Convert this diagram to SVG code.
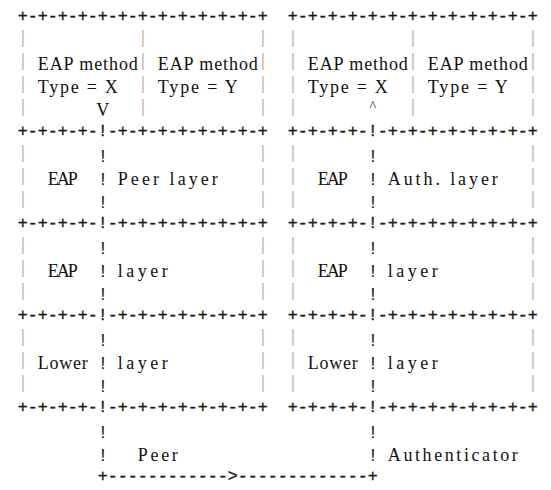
<svg xmlns="http://www.w3.org/2000/svg" width="551" height="490" viewBox="0 0 551 490">
<style>
.b{font-family:"Liberation Mono","DejaVu Sans Mono",monospace;font-size:16.667px;fill:#1a1a1a;stroke:#1a1a1a;stroke-width:0.35px}
.p{font-family:"Liberation Mono","DejaVu Sans Mono",monospace;font-size:18px;fill:#cdb8a6;text-anchor:middle}
.t{font-family:"Liberation Serif","DejaVu Serif",serif;font-size:18px;fill:#111}
.c{font-family:"Liberation Serif","DejaVu Serif",serif;font-size:18px;fill:#111;text-anchor:middle}
.k{font-family:"Liberation Mono","DejaVu Sans Mono",monospace;font-size:18px;fill:#1a1a1a;text-anchor:middle}
</style>
<rect width="551" height="490" fill="#fff"/>
<g id="peer-stack">
<text class="b" x="17.8" y="20.9" textLength="250" lengthAdjust="spacing">+-+-+-+-+-+-+-+-+-+-+-+-+</text>
<text class="b" x="17.8" y="135.9" textLength="250" lengthAdjust="spacing">+-+-+-+-!-+-+-+-+-+-+-+-+</text>
<text class="b" x="17.8" y="227.9" textLength="250" lengthAdjust="spacing">+-+-+-+-!-+-+-+-+-+-+-+-+</text>
<text class="b" x="17.8" y="319.9" textLength="250" lengthAdjust="spacing">+-+-+-+-!-+-+-+-+-+-+-+-+</text>
<text class="b" x="17.8" y="411.9" textLength="250" lengthAdjust="spacing">+-+-+-+-!-+-+-+-+-+-+-+-+</text>
<text class="p" x="22.8" y="43">|</text><text class="p" x="142.8" y="43">|</text><text class="p" x="262.8" y="43">|</text>
<text class="p" x="22.8" y="66">|</text><text class="p" x="142.8" y="66">|</text><text class="p" x="262.8" y="66">|</text>
<text class="p" x="22.8" y="89">|</text><text class="p" x="142.8" y="89">|</text><text class="p" x="262.8" y="89">|</text>
<text class="p" x="22.8" y="112">|</text><text class="p" x="142.8" y="112">|</text><text class="p" x="262.8" y="112">|</text>
<text class="p" x="22.8" y="158">|</text><text class="p" x="262.8" y="158">|</text>
<text class="p" x="22.8" y="181">|</text><text class="p" x="262.8" y="181">|</text>
<text class="p" x="22.8" y="204">|</text><text class="p" x="262.8" y="204">|</text>
<text class="p" x="22.8" y="250">|</text><text class="p" x="262.8" y="250">|</text>
<text class="p" x="22.8" y="273">|</text><text class="p" x="262.8" y="273">|</text>
<text class="p" x="22.8" y="296">|</text><text class="p" x="262.8" y="296">|</text>
<text class="p" x="22.8" y="342">|</text><text class="p" x="262.8" y="342">|</text>
<text class="p" x="22.8" y="365">|</text><text class="p" x="262.8" y="365">|</text>
<text class="p" x="22.8" y="388">|</text><text class="p" x="262.8" y="388">|</text>
<text class="t" x="37.8" y="69.5" textLength="100" lengthAdjust="spacing">EAP method</text>
<text class="t" x="157.8" y="69.5" textLength="100" lengthAdjust="spacing">EAP method</text>
<text class="t" x="37.8" y="92.5" textLength="80" lengthAdjust="spacing">Type = X</text>
<text class="t" x="157.8" y="92.5" textLength="80" lengthAdjust="spacing">Type = Y</text>
<text class="t" x="47.8" y="184.5" textLength="30" lengthAdjust="spacing">EAP</text>
<text class="t" x="117.8" y="184.5" textLength="100" lengthAdjust="spacing">Peer layer</text>
<text class="t" x="47.8" y="276.5" textLength="30" lengthAdjust="spacing">EAP</text>
<text class="t" x="117.8" y="276.5" textLength="50" lengthAdjust="spacing">layer</text>
<text class="t" x="37.8" y="368.5" textLength="50" lengthAdjust="spacing">Lower</text>
<text class="t" x="117.8" y="368.5" textLength="50" lengthAdjust="spacing">layer</text>
</g>
<g id="auth-stack">
<text class="b" x="287.8" y="20.9" textLength="250" lengthAdjust="spacing">+-+-+-+-+-+-+-+-+-+-+-+-+</text>
<text class="b" x="287.8" y="135.9" textLength="250" lengthAdjust="spacing">+-+-+-+-!-+-+-+-+-+-+-+-+</text>
<text class="b" x="287.8" y="227.9" textLength="250" lengthAdjust="spacing">+-+-+-+-!-+-+-+-+-+-+-+-+</text>
<text class="b" x="287.8" y="319.9" textLength="250" lengthAdjust="spacing">+-+-+-+-!-+-+-+-+-+-+-+-+</text>
<text class="b" x="287.8" y="411.9" textLength="250" lengthAdjust="spacing">+-+-+-+-!-+-+-+-+-+-+-+-+</text>
<text class="p" x="292.8" y="43">|</text><text class="p" x="412.8" y="43">|</text><text class="p" x="532.8" y="43">|</text>
<text class="p" x="292.8" y="66">|</text><text class="p" x="412.8" y="66">|</text><text class="p" x="532.8" y="66">|</text>
<text class="p" x="292.8" y="89">|</text><text class="p" x="412.8" y="89">|</text><text class="p" x="532.8" y="89">|</text>
<text class="p" x="292.8" y="112">|</text><text class="p" x="412.8" y="112">|</text><text class="p" x="532.8" y="112">|</text>
<text class="p" x="292.8" y="158">|</text><text class="p" x="532.8" y="158">|</text>
<text class="p" x="292.8" y="181">|</text><text class="p" x="532.8" y="181">|</text>
<text class="p" x="292.8" y="204">|</text><text class="p" x="532.8" y="204">|</text>
<text class="p" x="292.8" y="250">|</text><text class="p" x="532.8" y="250">|</text>
<text class="p" x="292.8" y="273">|</text><text class="p" x="532.8" y="273">|</text>
<text class="p" x="292.8" y="296">|</text><text class="p" x="532.8" y="296">|</text>
<text class="p" x="292.8" y="342">|</text><text class="p" x="532.8" y="342">|</text>
<text class="p" x="292.8" y="365">|</text><text class="p" x="532.8" y="365">|</text>
<text class="p" x="292.8" y="388">|</text><text class="p" x="532.8" y="388">|</text>
<text class="t" x="307.8" y="69.5" textLength="100" lengthAdjust="spacing">EAP method</text>
<text class="t" x="427.8" y="69.5" textLength="100" lengthAdjust="spacing">EAP method</text>
<text class="t" x="307.8" y="92.5" textLength="80" lengthAdjust="spacing">Type = X</text>
<text class="t" x="427.8" y="92.5" textLength="80" lengthAdjust="spacing">Type = Y</text>
<text class="t" x="317.8" y="184.5" textLength="30" lengthAdjust="spacing">EAP</text>
<text class="t" x="387.8" y="184.5" textLength="110" lengthAdjust="spacing">Auth. layer</text>
<text class="t" x="317.8" y="276.5" textLength="30" lengthAdjust="spacing">EAP</text>
<text class="t" x="387.8" y="276.5" textLength="50" lengthAdjust="spacing">layer</text>
<text class="t" x="307.8" y="368.5" textLength="50" lengthAdjust="spacing">Lower</text>
<text class="t" x="387.8" y="368.5" textLength="50" lengthAdjust="spacing">layer</text>
</g>
<g id="connectors">
<text class="c" x="102.8" y="115.5">V</text>
<text class="c" x="372.8" y="111" style="font-size:14px">^</text>
<text class="k" x="102.8" y="161.5">!</text><text class="k" x="372.8" y="161.5">!</text>
<text class="k" x="102.8" y="184.5">!</text><text class="k" x="372.8" y="184.5">!</text>
<text class="k" x="102.8" y="207.5">!</text><text class="k" x="372.8" y="207.5">!</text>
<text class="k" x="102.8" y="253.5">!</text><text class="k" x="372.8" y="253.5">!</text>
<text class="k" x="102.8" y="276.5">!</text><text class="k" x="372.8" y="276.5">!</text>
<text class="k" x="102.8" y="299.5">!</text><text class="k" x="372.8" y="299.5">!</text>
<text class="k" x="102.8" y="345.5">!</text><text class="k" x="372.8" y="345.5">!</text>
<text class="k" x="102.8" y="368.5">!</text><text class="k" x="372.8" y="368.5">!</text>
<text class="k" x="102.8" y="391.5">!</text><text class="k" x="372.8" y="391.5">!</text>
<text class="k" x="102.8" y="437.5">!</text><text class="k" x="372.8" y="437.5">!</text>
<text class="k" x="102.8" y="460.5">!</text><text class="k" x="372.8" y="460.5">!</text>
<text class="b" x="97.8" y="480.9" textLength="280" lengthAdjust="spacing">+------------&gt;-------------+</text>
<text class="t" x="137.8" y="460.5" textLength="40" lengthAdjust="spacing">Peer</text>
<text class="t" x="387.8" y="460.5" textLength="130" lengthAdjust="spacing">Authenticator</text>
</g>
</svg>
